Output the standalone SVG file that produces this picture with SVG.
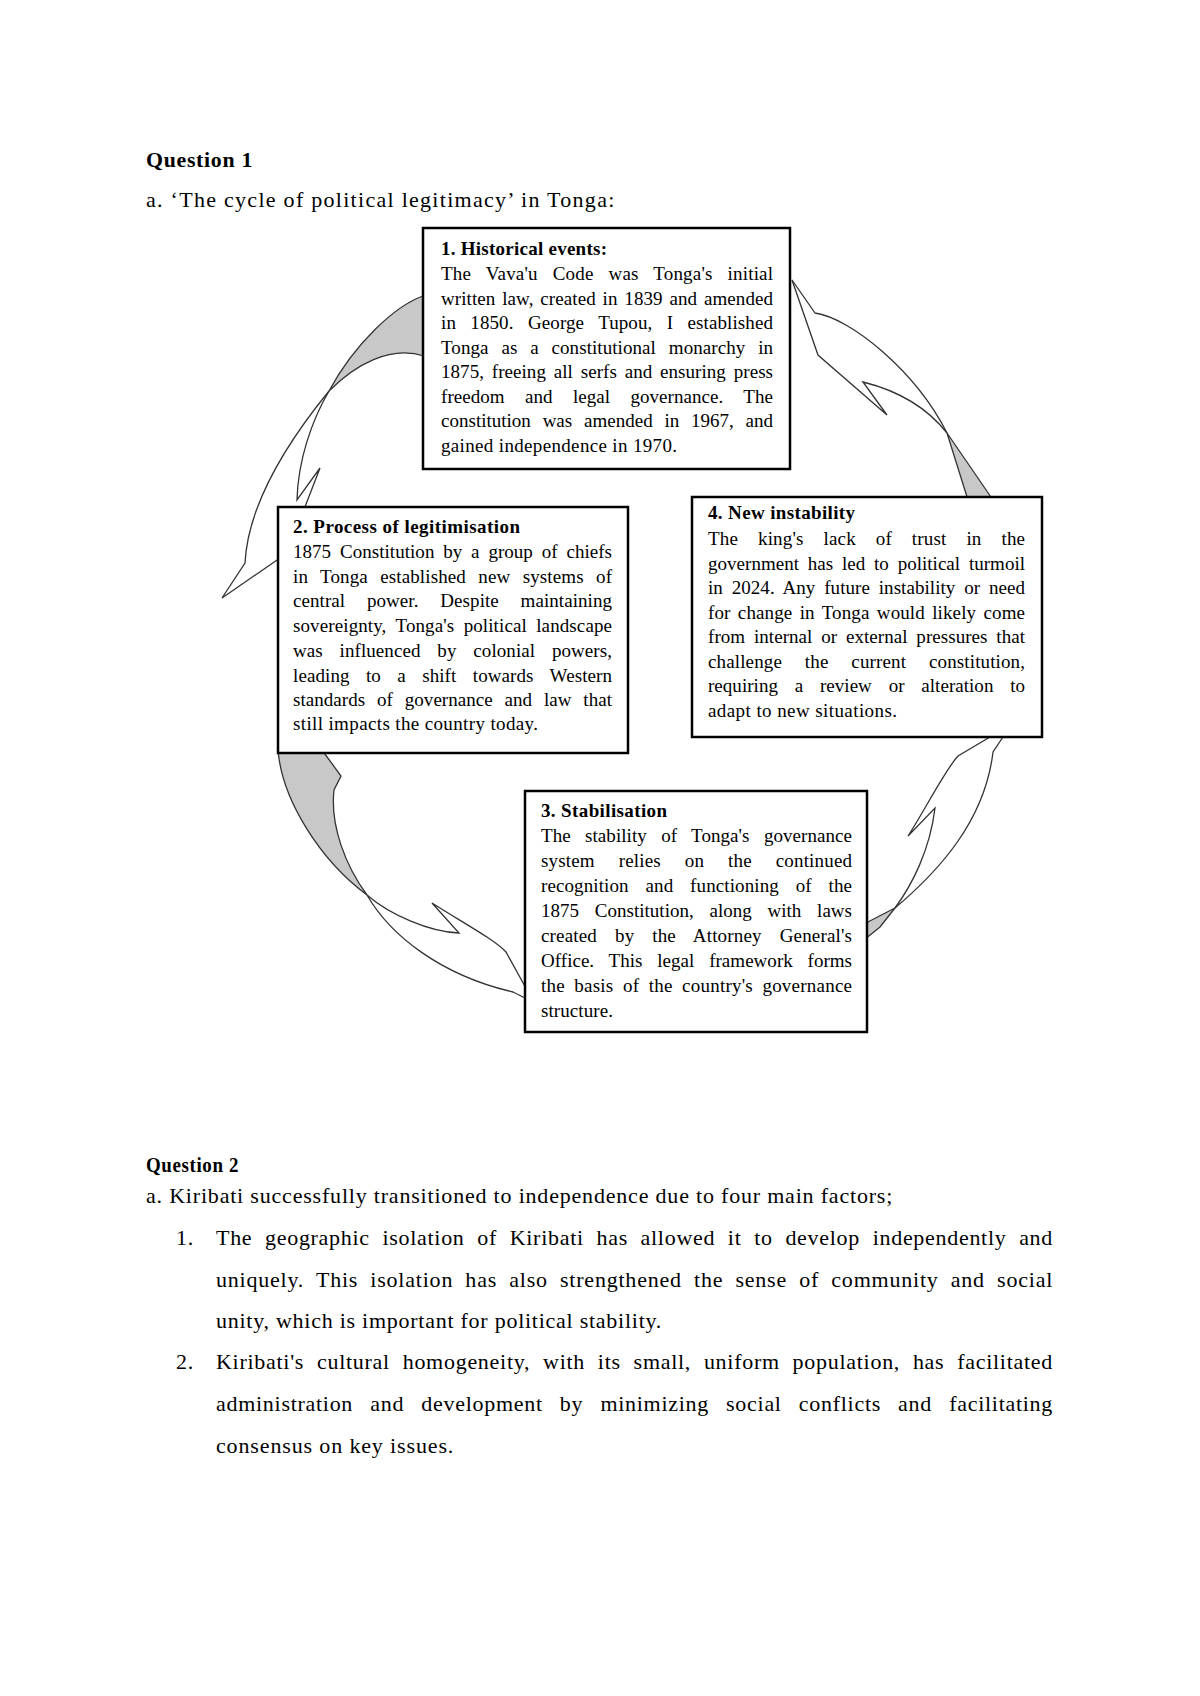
<svg xmlns="http://www.w3.org/2000/svg" width="1200" height="1696" viewBox="0 0 1200 1696">
<style>
.t{font-family:"Liberation Serif","Times New Roman",serif;font-size:19px;fill:#000}
.b{font-weight:bold}
.q{font-size:22px;letter-spacing:0.7px}
.box{fill:#fff;stroke:#000;stroke-width:2.5}
.ln{fill:none;stroke:#333;stroke-width:1.3;stroke-linejoin:miter}
.gr{fill:#c8c8c8;stroke:#333;stroke-width:1.3}
</style>
<rect width="1200" height="1696" fill="#fff"/>
<text class="t q b" x="146" y="167" textLength="107" lengthAdjust="spacingAndGlyphs">Question 1</text>
<text class="t q" x="146" y="207" textLength="469" lengthAdjust="spacing">a. ‘The cycle of political legitimacy’ in Tonga:</text>

<g id="connectors">
  <!-- 1 -> 2 -->
  <path class="gr" d="M423,296 C395,306 355,343 329,391 C355,365 390,345 424,356 Z"/>
  <path class="ln" d="M329,391 C285,445 248,505 245,563 L222,598 L280,558"/>
  <path class="ln" d="M329,391 C312,420 298,460 297,500 L320,468 L303,512"/>
  <!-- 2 -> 3 -->
  <path class="gr" d="M278,750 C282,800 320,860 367,895 C345,865 330,825 334,790 L341,776 L322,750 Z"/>
  <path class="ln" d="M367,895 C390,915 430,932 459,933 L432,903 C465,924 495,940 506,952 L527,990"/>
  <path class="ln" d="M367,895 C390,935 440,975 513,992 L527,999"/>
  <!-- 3 -> 4 -->
  <path class="gr" d="M864,924 L895,908 L880,927 L864,940 Z"/>
  <path class="ln" d="M895,908 C912,885 930,850 935,808 L908,836 C925,810 945,770 958,756 L995,734"/>
  <path class="ln" d="M895,908 C940,870 985,820 993,752 L1005,734"/>
  <!-- 4 -> 1 -->
  <path class="gr" d="M947,433 L993,500 L968,500 Z"/>
  <path class="ln" d="M792,280 L815,313 C850,318 915,370 947,433"/>
  <path class="ln" d="M792,280 L818,355 L887,415 L863,382 C895,390 925,405 947,433"/>
</g>

<g id="node1">
  <rect class="box" x="423" y="228" width="367" height="241"/>
  <text class="t b" x="441" y="255" textLength="166" lengthAdjust="spacing">1. Historical events:</text>
  <text class="t" x="441" y="280" word-spacing="10" textLength="332" lengthAdjust="spacing">The Vava'u Code was Tonga's initial</text>
  <text class="t" x="441" y="305" word-spacing="2" textLength="332" lengthAdjust="spacing">written law, created in 1839 and amended</text>
  <text class="t" x="441" y="329" word-spacing="9.5" textLength="332" lengthAdjust="spacing">in 1850. George Tupou, I established</text>
  <text class="t" x="441" y="354" word-spacing="8" textLength="332" lengthAdjust="spacing">Tonga as a constitutional monarchy in</text>
  <text class="t" x="441" y="378" word-spacing="3" textLength="332" lengthAdjust="spacing">1875, freeing all serfs and ensuring press</text>
  <text class="t" x="441" y="403" word-spacing="15.5" textLength="332" lengthAdjust="spacing">freedom and legal governance. The</text>
  <text class="t" x="441" y="427" word-spacing="7" textLength="332" lengthAdjust="spacing">constitution was amended in 1967, and</text>
  <text class="t" x="441" y="452" textLength="236" lengthAdjust="spacing">gained independence in 1970.</text>
</g>

<g id="node2">
  <rect class="box" x="278" y="507" width="350" height="246"/>
  <text class="t b" x="293" y="533" textLength="227" lengthAdjust="spacing">2. Process of legitimisation</text>
  <text class="t" x="293" y="558" word-spacing="4" textLength="319" lengthAdjust="spacing">1875 Constitution by a group of chiefs</text>
  <text class="t" x="293" y="583" word-spacing="7.5" textLength="319" lengthAdjust="spacing">in Tonga established new systems of</text>
  <text class="t" x="293" y="607" word-spacing="17" textLength="319" lengthAdjust="spacing">central power. Despite maintaining</text>
  <text class="t" x="293" y="632" word-spacing="4.5" textLength="319" lengthAdjust="spacing">sovereignty, Tonga's political landscape</text>
  <text class="t" x="293" y="657" word-spacing="12" textLength="319" lengthAdjust="spacing">was influenced by colonial powers,</text>
  <text class="t" x="293" y="682" word-spacing="11.5" textLength="319" lengthAdjust="spacing">leading to a shift towards Western</text>
  <text class="t" x="293" y="706" word-spacing="7" textLength="319" lengthAdjust="spacing">standards of governance and law that</text>
  <text class="t" x="293" y="730" textLength="245" lengthAdjust="spacing">still impacts the country today.</text>
</g>

<g id="node4">
  <rect class="box" x="692" y="497" width="350" height="240"/>
  <text class="t b" x="708" y="519" textLength="147" lengthAdjust="spacing">4. New instability</text>
  <text class="t" x="708" y="545" word-spacing="15" textLength="317" lengthAdjust="spacing">The king's lack of trust in the</text>
  <text class="t" x="708" y="570" word-spacing="4" textLength="317" lengthAdjust="spacing">government has led to political turmoil</text>
  <text class="t" x="708" y="594" word-spacing="4" textLength="317" lengthAdjust="spacing">in 2024. Any future instability or need</text>
  <text class="t" x="708" y="619" word-spacing="2.5" textLength="317" lengthAdjust="spacing">for change in Tonga would likely come</text>
  <text class="t" x="708" y="643" word-spacing="4" textLength="317" lengthAdjust="spacing">from internal or external pressures that</text>
  <text class="t" x="708" y="668" word-spacing="18" textLength="317" lengthAdjust="spacing">challenge the current constitution,</text>
  <text class="t" x="708" y="692" word-spacing="12" textLength="317" lengthAdjust="spacing">requiring a review or alteration to</text>
  <text class="t" x="708" y="717" textLength="189" lengthAdjust="spacing">adapt to new situations.</text>
</g>

<g id="node3">
  <rect class="box" x="525" y="791" width="342" height="241"/>
  <text class="t b" x="541" y="817" textLength="126" lengthAdjust="spacing">3. Stabilisation</text>
  <text class="t" x="541" y="842" word-spacing="9.5" textLength="311" lengthAdjust="spacing">The stability of Tonga's governance</text>
  <text class="t" x="541" y="867" word-spacing="19" textLength="311" lengthAdjust="spacing">system relies on the continued</text>
  <text class="t" x="541" y="892" word-spacing="12" textLength="311" lengthAdjust="spacing">recognition and functioning of the</text>
  <text class="t" x="541" y="917" word-spacing="11" textLength="311" lengthAdjust="spacing">1875 Constitution, along with laws</text>
  <text class="t" x="541" y="942" word-spacing="13" textLength="311" lengthAdjust="spacing">created by the Attorney General's</text>
  <text class="t" x="541" y="967" word-spacing="10" textLength="311" lengthAdjust="spacing">Office. This legal framework forms</text>
  <text class="t" x="541" y="992" word-spacing="4.5" textLength="311" lengthAdjust="spacing">the basis of the country's governance</text>
  <text class="t" x="541" y="1017" textLength="72" lengthAdjust="spacing">structure.</text>
</g>

<text class="t q b" x="146" y="1172" textLength="93" lengthAdjust="spacingAndGlyphs">Question 2</text>
<text class="t q" x="146" y="1203" textLength="747" lengthAdjust="spacing">a. Kiribati successfully transitioned to independence due to four main factors;</text>
<text class="t q" x="176" y="1245">1.</text>
<text class="t q" x="216" y="1245" word-spacing="6.5" textLength="837" lengthAdjust="spacing">The geographic isolation of Kiribati has allowed it to develop independently and</text>
<text class="t q" x="216" y="1287" word-spacing="5.9" textLength="837" lengthAdjust="spacing">uniquely. This isolation has also strengthened the sense of community and social</text>
<text class="t q" x="216" y="1328" textLength="446" lengthAdjust="spacing">unity, which is important for political stability.</text>
<text class="t q" x="176" y="1369">2.</text>
<text class="t q" x="216" y="1369" word-spacing="6.6" textLength="837" lengthAdjust="spacing">Kiribati's cultural homogeneity, with its small, uniform population, has facilitated</text>
<text class="t q" x="216" y="1411" word-spacing="10.9" textLength="837" lengthAdjust="spacing">administration and development by minimizing social conflicts and facilitating</text>
<text class="t q" x="216" y="1453" textLength="238" lengthAdjust="spacing">consensus on key issues.</text>
</svg>
